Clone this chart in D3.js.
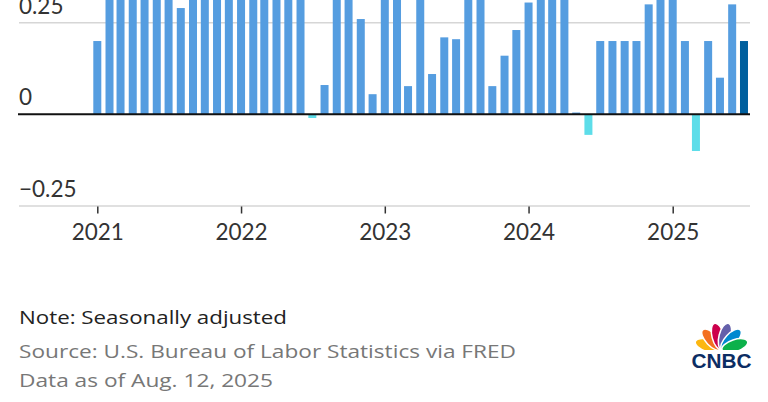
<!DOCTYPE html>
<html>
<head>
<meta charset="utf-8">
<script src="https://cdn.jsdelivr.net/npm/d3@7"></script>
<style>
body { margin: 0; background: #fff; }
svg { display: block; font-family: Lato, "Open Sans", sans-serif; }
</style>
</head>
<body>
<svg></svg>
<script>
var months = [
	'2021-01','2021-02','2021-03','2021-04','2021-05','2021-06','2021-07','2021-08','2021-09','2021-10','2021-11','2021-12',
	'2022-01','2022-02','2022-03','2022-04','2022-05','2022-06','2022-07','2022-08','2022-09','2022-10','2022-11','2022-12',
	'2023-01','2023-02','2023-03','2023-04','2023-05','2023-06','2023-07','2023-08','2023-09','2023-10','2023-11','2023-12',
	'2024-01','2024-02','2024-03','2024-04','2024-05','2024-06','2024-07','2024-08','2024-09','2024-10','2024-11','2024-12',
	'2025-01','2025-02','2025-03','2025-04','2025-05','2025-06','2025-07'
];
var values = [
	0.2, 0.4, 0.6, 0.7, 0.6, 0.8, 0.4, 0.29, 0.4, 0.8, 0.7, 0.6,
	0.6, 0.8, 1.0, 0.4, 1.0, 1.2, -0.01, 0.08, 0.4, 0.5, 0.26, 0.055,
	0.5, 0.4, 0.077, 0.4, 0.11, 0.21, 0.205, 0.5, 0.4, 0.077, 0.16, 0.23,
	0.305, 0.4, 0.4, 0.33, 0.005, -0.056, 0.2, 0.2, 0.2, 0.2, 0.3, 0.4,
	0.5, 0.2, -0.1, 0.2, 0.1, 0.3, 0.2
];
var y_ticks = [-0.25, 0, 0.25];
var y_labels = ['\u22120.25', '0', '0.25'];
var x_ticks = ['2021', '2022', '2023', '2024', '2025'];
var notes = [
	'Note: Seasonally adjusted',
	'Source: U.S. Bureau of Labor Statistics via FRED',
	'Data as of Aug. 12, 2025'
];

var width = 768, height = 402;
var svg = d3.select('svg').attr('width', width).attr('height', height);
var parseMonth = d3.timeParse('%Y-%m');
var parseYear = d3.timeParse('%Y');

var data = months.map(function(m, i){ return {date: parseMonth(m), value: values[i]}; });

var x = d3.scaleTime()
	.domain([parseYear('2021'), parseYear('2025')])
	.range([97.3, 672.7]);
var y = d3.scaleLinear()
	.domain([-0.25, 0.25])
	.range([206, 22.7]);

var grid_left = 19, grid_right = 750;
var bar_w = 8;

// gridlines (zero drawn later, on top of bars)
svg.append('g').selectAll('line')
	.data(y_ticks.filter(function(d){return d != 0}))
	.enter().append('line')
		.attr('x1', grid_left).attr('x2', grid_right)
		.attr('y1', function(d){return y(d)}).attr('y2', function(d){return y(d)})
		.attr('stroke', '#d6d6d6').attr('stroke-width', 1.5);

svg.append('g').selectAll('text')
	.data(y_ticks)
	.enter().append('text')
		.attr('x', grid_left)
		.attr('y', function(d){return y(d) - 9})
		.attr('font-size', 22.5)
		.attr('fill', '#333')
		.text(function(d, i){return y_labels[i]});

// bars
svg.append('g').selectAll('rect')
	.data(data)
	.enter().append('rect')
		.attr('x', function(d){return x(d.date) - bar_w / 2})
		.attr('width', bar_w)
		.attr('y', function(d){return y(Math.max(0, d.value))})
		.attr('height', function(d){return Math.abs(y(d.value) - y(0))})
		.attr('fill', function(d, i){
			if(i == data.length - 1) return '#005f9e';
			if(d.value < 0) return '#5ddde9';
			return '#559de0';
		});

svg.append('line')
	.attr('x1', grid_left - 1).attr('x2', grid_right)
	.attr('y1', y(0)).attr('y2', y(0))
	.attr('stroke', '#111').attr('stroke-width', 2);

// x axis
var xAxis = d3.axisBottom(x)
	.tickValues(x_ticks.map(parseYear))
	.tickFormat(d3.timeFormat('%Y'))
	.tickSize(7)
	.tickPadding(11);
var gx = svg.append('g')
	.attr('transform', 'translate(0,' + (y(-0.25) + 0.5) + ')')
	.call(xAxis);
gx.select('.domain').remove();
gx.selectAll('line').attr('stroke', '#333').attr('stroke-width', 1.5);
gx.selectAll('text')
	.attr('font-family', 'Lato, sans-serif')
	.attr('font-size', 22.5)
	.attr('fill', '#333');

// footer
var note_widths = [268, 497, 254];
svg.append('g').selectAll('text')
	.data(notes)
	.enter().append('text')
		.attr('x', 19)
		.attr('y', function(d, i){return [323.5, 357.5, 387][i]})
		.attr('font-family', '"Open Sans", sans-serif')
		.attr('font-size', 19)
		.attr('textLength', function(d, i){return note_widths[i]})
		.attr('lengthAdjust', 'spacingAndGlyphs')
		.attr('fill', function(d, i){return i == 0 ? '#222' : '#777'})
		.text(function(d){return d});

// CNBC peacock logo
var feather_colors = ['#fcb711', '#f37021', '#cc004c', '#6460aa', '#0089d0', '#0db14b'];
var logo = svg.append('g').attr('transform', 'translate(721.5,350)');
logo.selectAll('ellipse')
	.data(feather_colors)
	.enter().append('ellipse')
		.attr('cx', 0).attr('cy', -14)
		.attr('rx', 6).attr('ry', 13.5)
		.attr('transform', function(d, i){return 'rotate(' + (-72 + i * 28.8) + ')'})
		.attr('fill', function(d){return d})
		.attr('stroke', '#fff').attr('stroke-width', 1.5);
logo.append('rect')
	.attr('x', -32).attr('y', 0).attr('width', 64).attr('height', 20)
	.attr('fill', '#fff');
logo.append('text')
	.attr('x', 0).attr('y', 17.5)
	.attr('text-anchor', 'middle')
	.attr('font-family', '"Liberation Sans", Arial, sans-serif')
	.attr('font-weight', 'bold')
	.attr('font-size', 20)
	.attr('textLength', 60)
	.attr('lengthAdjust', 'spacingAndGlyphs')
	.attr('fill', '#0c2d63')
	.text('CNBC');
</script>
</body>
</html>
